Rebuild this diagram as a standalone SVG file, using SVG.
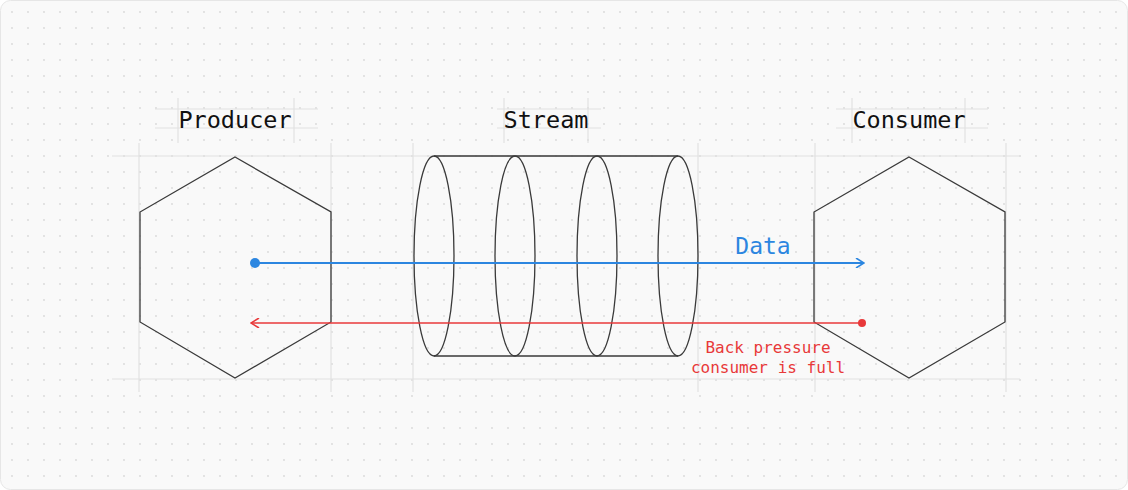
<svg xmlns="http://www.w3.org/2000/svg" width="1128" height="490" viewBox="0 0 1128 490">
<defs>
<pattern id="dots" width="16" height="16" patternUnits="userSpaceOnUse" x="4" y="4"><circle cx="8" cy="8" r="0.9" fill="#d8d8d8"/></pattern>
<marker id="ab" viewBox="0 0 10 10" refX="9" refY="5" markerWidth="10" markerHeight="10" markerUnits="userSpaceOnUse" orient="auto"><path d="M1 0L9 5L1 10" fill="none" stroke="#2c86e0" stroke-width="1.6"/></marker>
<marker id="ar" viewBox="0 0 10 10" refX="9" refY="5" markerWidth="10" markerHeight="10" markerUnits="userSpaceOnUse" orient="auto"><path d="M1 0L9 5L1 10" fill="none" stroke="#e8393a" stroke-width="1.6"/></marker>
<style>
.g{stroke:#e2e2e2;stroke-width:1.2;fill:none}
.s{stroke:#3a3a3a;stroke-width:1.3;fill:none}
.t{font-family:"DejaVu Sans Mono","Liberation Mono",monospace;font-size:23.5px;fill:#111;text-anchor:middle}
.r{font-family:"DejaVu Sans Mono","Liberation Mono",monospace;font-size:16px;fill:#e8393a;text-anchor:middle}
</style>
</defs>
<rect x="0.5" y="0.5" width="1127" height="489" rx="10" fill="#f9f9f9" stroke="#e6e6e6"/>
<rect x="1" y="1" width="1126" height="488" rx="10" fill="url(#dots)"/>
<g id="guides">
<path class="g" d="M112 156H1020M112 379H1020M139 143V392M331 143V392M413 143V392M698 143V392M815 143V392M1006 143V392"/>
<path class="g" d="M155 109H318M155 128H318M178 98V143M294 98V143"/>
<path class="g" d="M497 109H601M497 128H601M504 98V143M588 98V143"/>
<path class="g" d="M836 109H988M836 128H988M852 98V143M965 98V143"/>
</g>
<g id="producer">
<polygon class="s" points="235,157 331,212 331,322 235,378 140,322 140,212"/>
<text class="t" x="235" y="128">Producer</text>
</g>
<g id="stream">
<path class="s" d="M434 156H678M434 356H678"/>
<ellipse class="s" cx="434" cy="256" rx="20" ry="100"/>
<ellipse class="s" cx="515" cy="256" rx="20" ry="100"/>
<ellipse class="s" cx="597" cy="256" rx="20" ry="100"/>
<ellipse class="s" cx="678" cy="256" rx="20" ry="100"/>
<text class="t" x="546" y="128">Stream</text>
</g>
<g id="consumer">
<polygon class="s" points="909,157 1005,212 1005,322 909,378 814,322 814,212"/>
<text class="t" x="909" y="128">Consumer</text>
</g>
<g id="connectors">
<circle cx="255" cy="263" r="5" fill="#2c86e0"/>
<path d="M255 263H864" stroke="#2c86e0" stroke-width="2" fill="none" marker-end="url(#ab)"/>
<text x="763" y="254" font-family="DejaVu Sans Mono,Liberation Mono,monospace" font-size="23" fill="#2c86e0" text-anchor="middle">Data</text>
<circle cx="862" cy="323" r="4" fill="#e8393a"/>
<path d="M862 323H251" stroke="#e8393a" stroke-width="1.6" fill="none" marker-end="url(#ar)"/>
<text class="r" x="768" y="353">Back pressure</text>
<text class="r" x="768" y="373">consumer is full</text>
</g>
</svg>
